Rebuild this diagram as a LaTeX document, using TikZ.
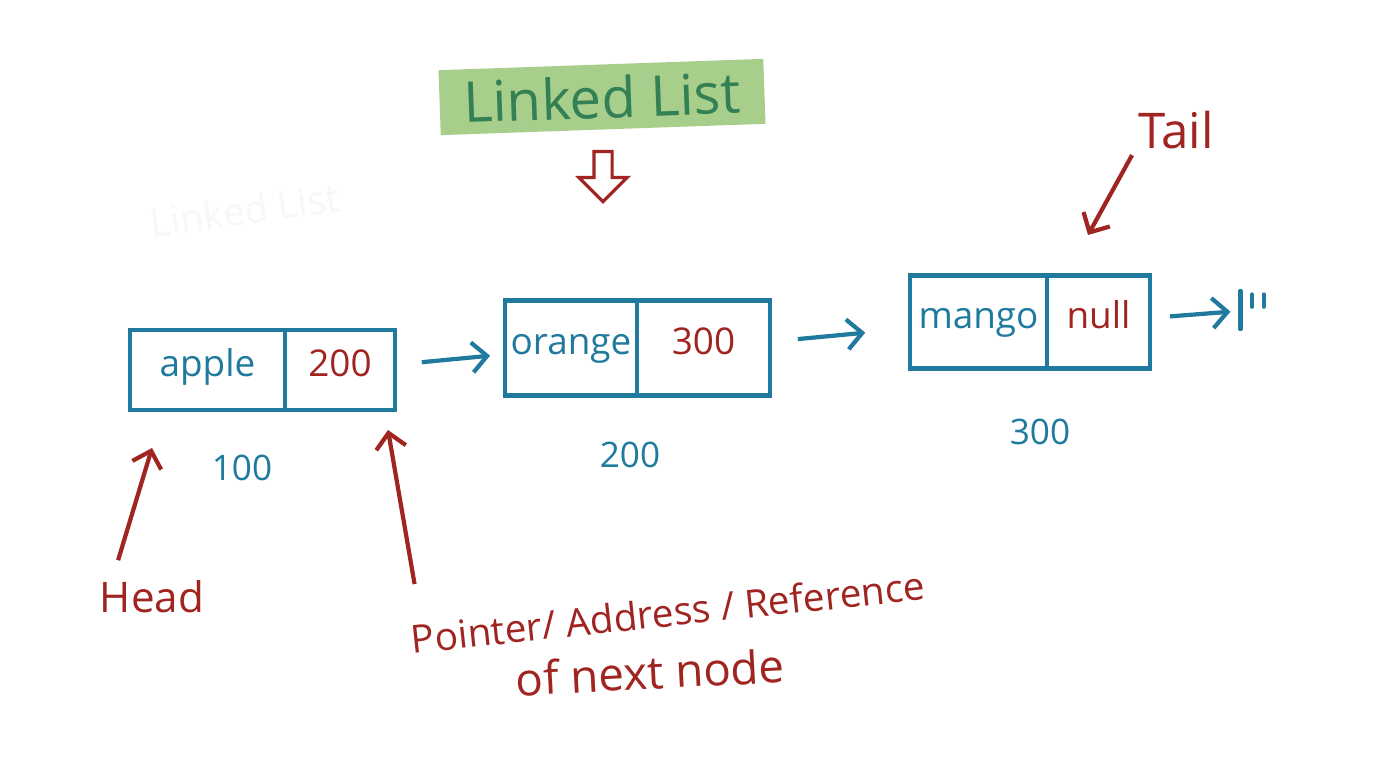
\documentclass[tikz,border=0pt]{standalone}
\usepackage{fontspec}
\setmainfont{Open Sans}
\usetikzlibrary{arrows.meta,positioning,shapes.arrows}
\definecolor{penblue}{RGB}{31,122,158}
\definecolor{penred}{RGB}{160,36,32}
\definecolor{markgreen}{RGB}{168,206,140}
\definecolor{inkgreen}{RGB}{50,128,84}
\tikzset{
  cell/.style={
    draw=penblue,
    line width=2.4pt,
    minimum height=1.6cm,
    inner sep=0pt,
    outer sep=0pt,
    text height=0.85em,
    text depth=0.15em,
    font=\fontsize{21}{25}\selectfont
  },
  datum/.style={cell, text=penblue},
  link/.style={cell, text=penred},
  addr/.style={
    text=penblue,
    font=\fontsize{20}{24}\selectfont
  },
  note/.style={
    text=penred,
    font=\fontsize{22}{26}\selectfont
  },
  arrow/.style={
    -{Straight Barb[length=3mm,width=6mm]},
    line width=2.4pt,
    penblue
  },
  redarrow/.style={arrow, penred},
  stroke/.style={line width=2.4pt, penblue, line cap=round}
}
\begin{document}
\begin{tikzpicture}[x=0.02cm, y=-0.02cm]
\useasboundingbox[fill=white] (0,0) rectangle (1400,757);
% title
\node[fill=markgreen, text=inkgreen, rotate=2, minimum width=6.5cm, minimum height=1.3cm,
  font=\fontsize{32}{36}\selectfont] (title) at (602,97) {Linked List};
\node[text=black!3, rotate=8, font=\fontsize{22}{26}\selectfont] (ghost) at (245,210) {Linked List};
\node[single arrow, draw=penred, line width=1.8pt, shape border rotate=270, inner sep=0.15cm,
  single arrow head extend=0.3cm, minimum height=1cm, single arrow head indent=0pt] (down) at (603,172) {};
% nodes of the list
\node[datum, minimum width=3.1cm] (apple) at (207.5,370) {apple};
\node[link, minimum width=2.2cm, right=0pt of apple] (p1) {200};
\node[datum, minimum width=2.64cm, minimum height=1.9cm] (orange) at (571,348) {orange};
\node[link, minimum width=2.66cm, minimum height=1.9cm, right=0pt of orange] (p2) {300};
\node[datum, minimum width=2.74cm, minimum height=1.86cm] (mango) at (978.5,322) {mango};
\node[link, minimum width=2.06cm, minimum height=1.86cm, right=0pt of mango] (p3) {null};
\node[minimum width=0.45cm, minimum height=0.75cm, inner sep=0pt] (stop) at (1252,310) {};
\draw[stroke] (stop.north west) -- (stop.south west);
\draw[stroke] ([yshift=-2pt]stop.north) -- ([yshift=-9pt]stop.north);
\draw[stroke] ([yshift=-2pt]stop.north east) -- ([yshift=-9pt]stop.north east);
% addresses
\node[addr] (a1) at (242,468) {100};
\node[addr] (a2) at (630,455) {200};
\node[addr] (a3) at (1040,432) {300};
\draw[arrow, shorten <=0.54cm, shorten >=0.3cm] (p1) -- (orange);
\draw[arrow, shorten <=0.56cm, shorten >=0.9cm] (p2) -- (mango);
\draw[arrow, shorten <=0.4cm, shorten >=0.2cm] (p3) -- (stop);
% labels
\node[note, font=\fontsize{24}{28}\selectfont] (head) at (152,597) {Head};
\node[note, font=\fontsize{28}{32}\selectfont] (tail) at (1176,130) {Tail};
\node[note, rotate=6] (ptr) at (668,612) {Pointer/ Address / Reference};
\node[note, rotate=3, font=\fontsize{26}{30}\selectfont] (next) at (650,672) {of next node};
\coordinate (headtip) at (152,448);
\coordinate (ptrtip) at (388,430);
\coordinate (tailtip) at (1088,235);
\draw[redarrow, shorten <=0.3cm] ([xshift=0.4cm]head.north west) -- (headtip);
\draw[redarrow, shorten <=0.7cm] ([xshift=0.35cm]ptr.north west) -- (ptrtip);
\draw[redarrow] (tail.south west) -- (tailtip);
\end{tikzpicture}
\end{document}
